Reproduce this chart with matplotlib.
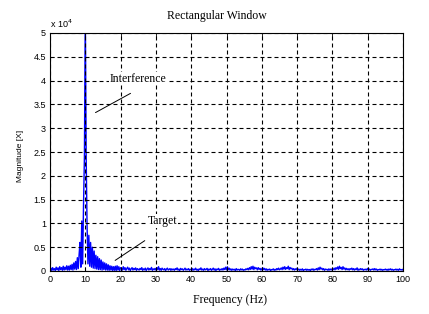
import numpy as np
import matplotlib
matplotlib.use("Agg")
import matplotlib.pyplot as plt
from matplotlib.ticker import FuncFormatter

# ---- data (magnitude |X|, counts) sampled every 0.25 Hz from 0 to 100 Hz ----
mag_0_5 = [150, 600, 100, 700, 200, 500, 100, 800, 250, 650, 100, 900, 300, 700,
           150, 1000, 200, 800, 300, 1100, 200]
mag_5_8 = [1000, 200, 1200, 300, 1400, 200, 1700, 400, 2000, 300, 2800, 500]
mag_8_12 = [3500, 6000, 800, 10500, 1500, 14000, 24000, 55000, 24000, 9500,
            1500, 7500, 1000, 6000, 800, 5000]
mag_12_20 = [600, 4200, 500, 3300, 400, 3000, 300, 2600, 300, 2300, 200, 1900,
             300, 1700, 200, 1500, 200, 1300, 150, 1100, 200, 1000, 100, 900,
             150, 1000, 100, 1100, 200, 900, 100, 700]
mag_20_100 = [
    600, 200, 900, 300, 700, 150, 500, 800, 250, 600, 100, 450, 700, 200, 550, 300, 650, 150, 500, 350,
    200, 550, 300, 700, 150, 450, 250, 600, 100, 400, 650, 200, 500, 300, 750, 150, 450, 250, 550, 200,
    700, 300, 900, 200, 500, 150, 600, 350, 250, 500, 100, 400, 600, 200, 350, 500, 150, 450, 250, 400,
    150, 500, 300, 650, 200, 400, 100, 550, 300, 450, 150, 350, 600, 200, 400, 250, 500, 150, 350, 300,
    550, 150, 400, 250, 600, 200, 350, 100, 450, 300, 650, 200, 400, 150, 500, 250, 350, 550, 100, 400,
    250, 500, 150, 350, 600, 200, 450, 100, 400, 300, 550, 150, 350, 250, 500, 200, 600, 300, 800, 250,
    900, 300, 600, 200, 450, 150, 400, 250, 350, 100, 500, 200, 350, 300, 150, 450, 250, 400, 150, 300,
    200, 450, 300, 550, 250, 700, 350, 900, 400, 1000, 300, 800, 500, 650, 250, 700, 350, 550, 200, 450,
    700, 300, 550, 200, 450, 150, 350, 250, 400, 100, 300, 250, 450, 150, 350, 200, 500, 300, 600, 250,
    400, 650, 300, 800, 400, 900, 350, 700, 500, 1000, 300, 750, 450, 600, 250, 500, 200, 450, 300, 600,
    250, 400, 150, 350, 200, 450, 100, 300, 250, 400, 150, 350, 200, 300, 100, 400, 250, 450, 150, 350,
    300, 500, 200, 650, 300, 800, 400, 600, 250, 500, 150, 400, 300, 350, 150, 450, 200, 400, 250, 500,
    300, 600, 250, 700, 400, 850, 350, 1000, 500, 750, 300, 900, 400, 650, 250, 550, 300, 450, 200, 500,
    350, 600, 250, 500, 200, 450, 300, 650, 150, 400, 250, 500, 300, 450, 150, 350, 250, 400, 200, 550,
    250, 400, 150, 350, 300, 450, 200, 500, 250, 400, 150, 300, 250, 400, 200, 350, 150, 300, 250, 400,
    200, 350, 150, 400, 250, 450, 200, 350, 150, 300, 250, 400, 200, 350, 150, 450, 250, 300, 200, 350,
]
magnitude = np.array(mag_0_5 + mag_5_8 + mag_8_12 + mag_12_20 + mag_20_100, dtype=float)
freq = np.linspace(0, 100, len(magnitude))

x_ticks = [0, 10, 20, 30, 40, 50, 60, 70, 80, 90, 100]
y_ticks = [0, 0.5e4, 1e4, 1.5e4, 2e4, 2.5e4, 3e4, 3.5e4, 4e4, 4.5e4, 5e4]

title = "Rectangular Window"
xlabel = "Frequency (Hz)"
ylabel = "Magnitude [X]"

# ---- figure ----
W, H = 429, 314
fig = plt.figure(figsize=(W / 100, H / 100), dpi=100)
ax = fig.add_axes([50 / W, 43 / H, 353 / W, 238 / H])

ax.plot(freq, magnitude, color=(0, 0, 1), lw=1.0, clip_on=True)

ax.set_xlim(0, 100)
ax.set_ylim(0, 5e4)
ax.set_xticks(x_ticks)
ax.set_yticks(y_ticks)
ax.yaxis.set_major_formatter(FuncFormatter(lambda v, p: "%g" % (v / 1e4)))
ax.grid(True, color="black", linestyle=(0, (3.6, 2.7)), linewidth=0.8)
ax.set_axisbelow(False)
ax.tick_params(direction="in", length=3, width=0.6, labelsize=6.5,
               top=True, right=True, pad=3)
for lab in ax.get_xticklabels() + ax.get_yticklabels():
    lab.set_fontfamily("Liberation Sans")
for s in ax.spines.values():
    s.set_linewidth(0.8)

ax.text(0.0, 1.012, r"x 10$^4$", transform=ax.transAxes, fontsize=6.5,
        family="Liberation Sans", ha="left", va="bottom")

fig.text(217 / W, 1 - 16 / H, title, fontsize=8.5, family="Liberation Serif",
         ha="center", va="center")
fig.text(230 / W, 1 - 300 / H, xlabel, fontsize=8.5, family="Liberation Serif",
         ha="center", va="center")
fig.text(20 / W, 1 - 156 / H, ylabel, fontsize=6, family="Liberation Sans",
         ha="center", va="center", rotation=90)

# annotations
bbox = dict(facecolor="white", edgecolor="none", pad=0.5)
ax.annotate("", xy=(12.2, 3.30e4), xytext=(23.5, 3.76e4),
            arrowprops=dict(arrowstyle="-", color="black", lw=0.7))
ax.text(24.9, 4.04e4, "Interference", fontsize=8.5, family="Liberation Serif",
        ha="center", va="center", bbox=bbox)
ax.annotate("", xy=(17.8, 0.19e4), xytext=(27.5, 0.67e4),
            arrowprops=dict(arrowstyle="-", color="black", lw=0.7))
ax.text(32.0, 1.05e4, "Target", fontsize=8.5, family="Liberation Serif",
        ha="center", va="center", bbox=bbox)

fig.savefig("out.png", dpi=100, facecolor="white")
